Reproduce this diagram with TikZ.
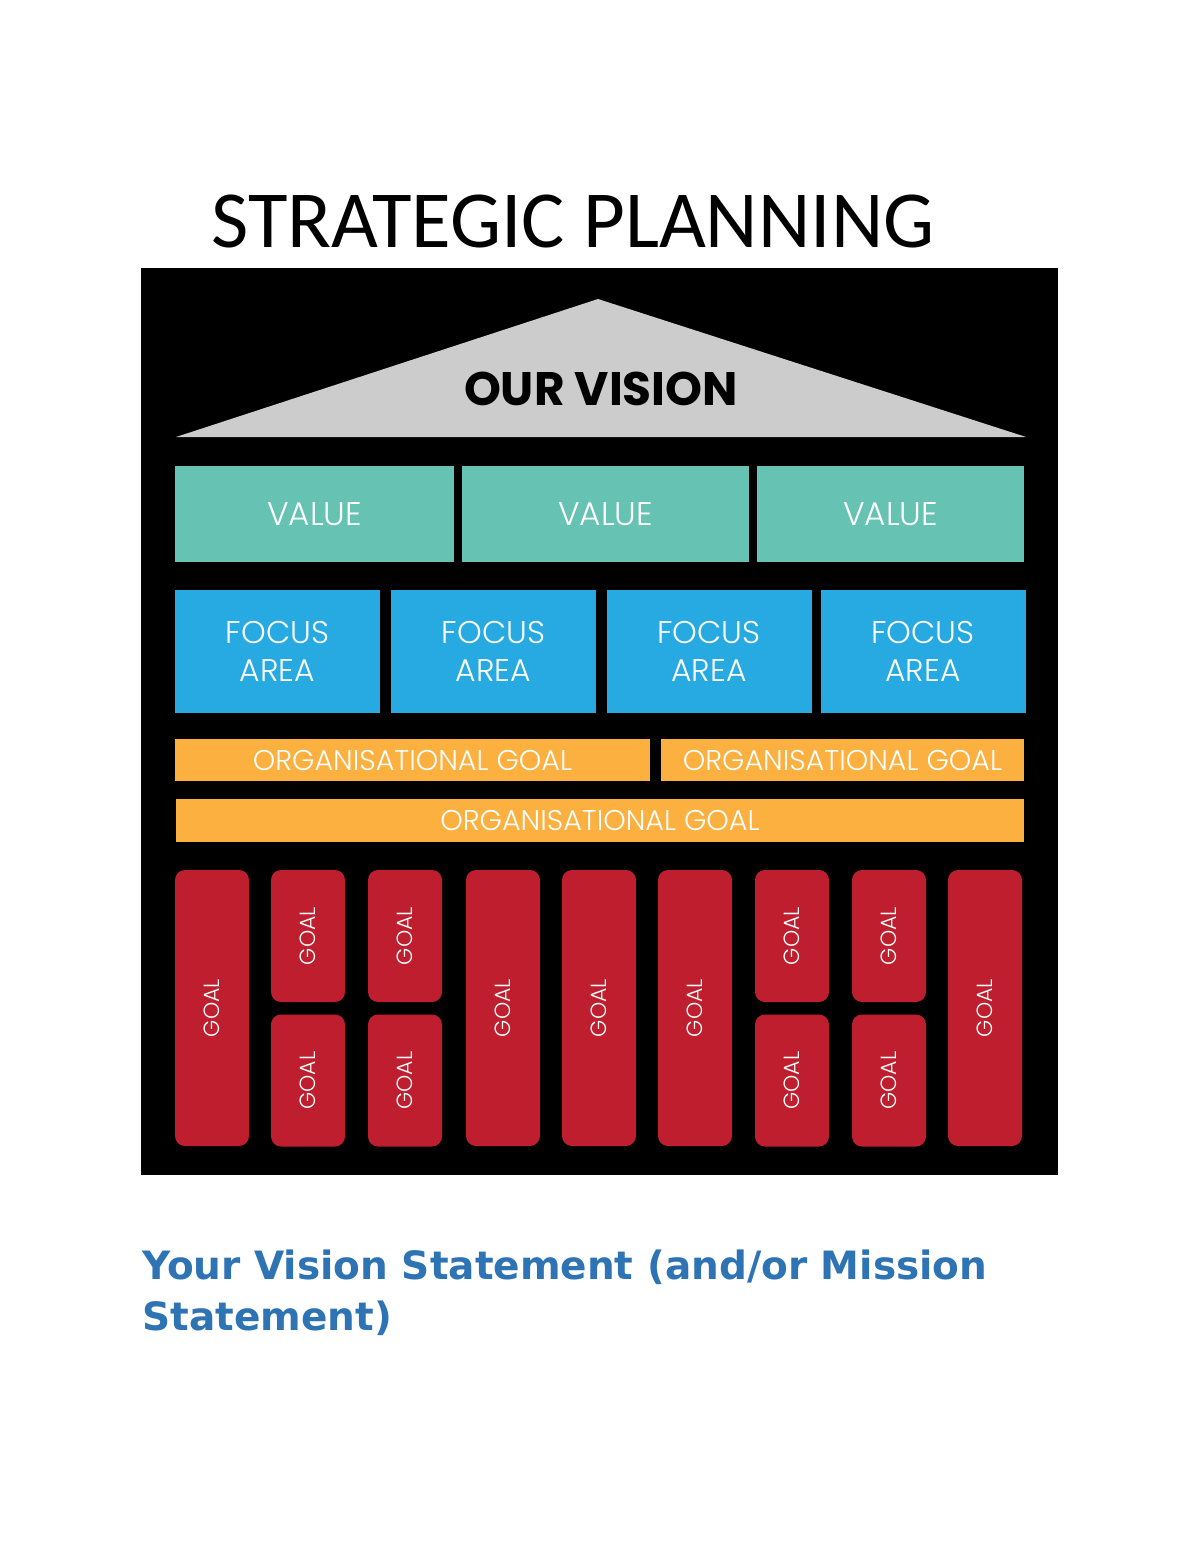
\documentclass[tikz,border=0pt]{standalone}
\usepackage{fontspec}
\usepackage{graphicx}
\setmainfont{Carlito}
\newfontfamily\boxfont{Poppins}[UprightFont=* Light, BoldFont=* Bold]
\newfontfamily\headfont{DejaVu Sans}

\definecolor{roofgray}{HTML}{CCCCCC}
\definecolor{valuegreen}{HTML}{66C2B2}
\definecolor{focusblue}{HTML}{27AAE1}
\definecolor{orgorange}{HTML}{FBB040}
\definecolor{goalred}{HTML}{BE1E2D}
\definecolor{headblue}{HTML}{2E74B5}

\tikzset{
  box/.style={rectangle, inner sep=0pt, text=white},
  valuebox/.style={box, fill=valuegreen, minimum height=48pt, font=\boxfont\fontsize{16.4}{20}\selectfont},
  focusbox/.style={box, fill=focusblue, minimum width=102.5pt, minimum height=61.5pt, align=center, font=\boxfont\fontsize{15.7}{19}\selectfont},
  orgbox/.style={box, fill=orgorange, font=\boxfont\fontsize{14.3}{17}\selectfont},
  goalbox/.style={box, fill=goalred, minimum width=37pt, rounded corners=5pt, font=\boxfont\fontsize{11}{13}\selectfont},
  tallgoal/.style={goalbox, minimum height=138pt},
  shortgoal/.style={goalbox, minimum height=66pt},
}

\begin{document}
\begin{tikzpicture}[x=0.5pt, y=-0.5pt]
        \fill[white] (0,0) rectangle (1200,1553);
        \useasboundingbox (0,0) rectangle (1200,1553);

        \node[font=\fontsize{40.5}{48}\selectfont, anchor=base] at (573,247)(title){STRATEGIC PLANNING};

        \fill[black] (141,268) rectangle (1058,1175);
        \fill[roofgray] (176,437) -- (598,299) -- (1026,437) -- cycle;
        \node[font=\boxfont\bfseries\fontsize{23.5}{28}\selectfont, anchor=base] at (601,405)(vision){OUR VISION};

        \node[valuebox, minimum width=139.5pt] at (314.5,514)(v1){VALUE};
        \node[valuebox, minimum width=143.5pt] at (605.5,514)(v2){VALUE};
        \node[valuebox, minimum width=133.5pt] at (890.5,514)(v3){VALUE};

        \node[focusbox] at (277.5,651.5)(f1){FOCUS\\AREA};
        \node[focusbox] at (493.5,651.5)(f2){FOCUS\\AREA};
        \node[focusbox] at (709,651.5)(f3){FOCUS\\AREA};
        \node[focusbox] at (923,651.5)(f4){FOCUS\\AREA};

        \node[orgbox, minimum width=237.5pt, minimum height=21pt] at (412.5,760)(o1){ORGANISATIONAL GOAL};
        \node[orgbox, minimum width=181.5pt, minimum height=21pt] at (842.5,760)(o2){ORGANISATIONAL GOAL};
        \node[orgbox, minimum width=424pt, minimum height=21.5pt] at (600,820.5)(o3){ORGANISATIONAL GOAL};

        \node[tallgoal] at (212,1008)(g1){\rotatebox{90}{GOAL}};
        \node[shortgoal] at (308,936)(g2){\rotatebox{90}{GOAL}};
        \node[shortgoal] at (308,1080.5)(g3){\rotatebox{90}{GOAL}};
        \node[shortgoal] at (405,936)(g4){\rotatebox{90}{GOAL}};
        \node[shortgoal] at (405,1080.5)(g5){\rotatebox{90}{GOAL}};
        \node[tallgoal] at (503,1008)(g6){\rotatebox{90}{GOAL}};
        \node[tallgoal] at (599,1008)(g7){\rotatebox{90}{GOAL}};
        \node[tallgoal] at (695,1008)(g8){\rotatebox{90}{GOAL}};
        \node[shortgoal] at (792,936)(g9){\rotatebox{90}{GOAL}};
        \node[shortgoal] at (792,1080.5)(g10){\rotatebox{90}{GOAL}};
        \node[shortgoal] at (889,936)(g11){\rotatebox{90}{GOAL}};
        \node[shortgoal] at (889,1080.5)(g12){\rotatebox{90}{GOAL}};
        \node[tallgoal] at (985,1008)(g13){\rotatebox{90}{GOAL}};

        \node[font=\headfont\bfseries\fontsize{19.5}{25.5}\selectfont, text=headblue, align=left, anchor=base west, inner sep=0pt] at (142,1330)(statement){Your Vision Statement (and/or Mission\\Statement)};
    \end{tikzpicture}
\end{document}
